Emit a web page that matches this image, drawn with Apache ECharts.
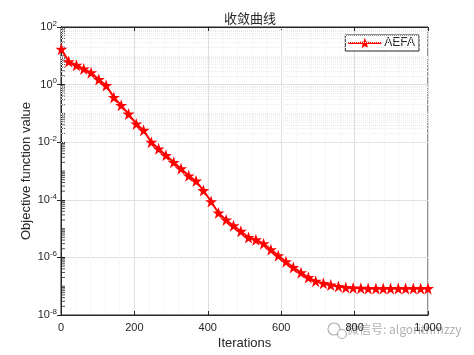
<!DOCTYPE html>
<html><head><meta charset="utf-8">
<script src="https://cdn.jsdelivr.net/npm/echarts@6/dist/echarts.min.js"></script>
<style>html,body{margin:0;padding:0;background:#fff}#c{width:474px;height:355px}</style>
</head><body><div id="c"></div>
<script>
const titleText = '收敛曲线';
const seriesName = 'AEFA';
const xLabel = 'Iterations';
const yLabel = 'Objective function value';
const xTicks = [0, 200, 400, 600, 800, 1000];
const yTickExps = [2, 0, -2, -4, -6, -8];
const iterations = [1, 21, 42, 62, 82, 103, 123, 144, 164, 184, 205, 225, 246, 266, 286, 307, 327, 348, 368, 388,
  409, 429, 450, 470, 490, 511, 531, 552, 572, 592, 613, 633, 654, 674, 694, 715, 735, 756, 776, 796,
  817, 837, 858, 878, 898, 919, 939, 960, 980, 1000];
const values = [17.0, 6.3, 4.7, 3.5, 2.6, 1.5, 0.93, 0.36, 0.19, 0.095,
  0.043, 0.026, 0.010, 5.9e-3, 3.5e-3, 2.0e-3, 1.2e-3, 6.8e-4, 4.5e-4, 2.1e-4,
  8.7e-5, 3.5e-5, 2.0e-5, 1.26e-5, 8.1e-6, 4.9e-6, 4.1e-6, 3.0e-6, 1.86e-6, 1.15e-6,
  7.1e-7, 4.5e-7, 2.95e-7, 2.0e-7, 1.5e-7, 1.26e-7, 1.1e-7, 9.8e-8, 9.0e-8, 8.7e-8,
  8.5e-8, 8.3e-8, 8.3e-8, 8.3e-8, 8.3e-8, 8.3e-8, 8.3e-8, 8.3e-8, 8.3e-8, 8.3e-8];

const star = 'path://M50,0 L61.8,35.1 L98.1,35.1 L68.7,56.8 L79.4,91.9 L50,70 L20.6,91.9 L31.3,56.8 L1.9,35.1 L38.2,35.1 Z';
const txt = '#262626';
const font = 'Liberation Sans, Arial, sans-serif';

// log minor grid lines (2..9 x 10^n and odd decades)
const minorY = [];
for (let n = -8; n < 2; n++) {
  for (let m = 2; m <= 9; m++) minorY.push({yAxis: m * Math.pow(10, n)});
  if (n % 2 !== 0) minorY.push({yAxis: Math.pow(10, n)});
}
const minorTickData = minorY.map(d => [0, d.yAxis]);

const data = iterations.map((x, i) => [x, values[i]]);
const chart = echarts.init(document.getElementById('c'));
const yAxisBase = {
  type: 'log', logBase: 10, min: 1e-8, max: 1e2, interval: 2,
  axisLine: {show: true, lineStyle: {color: txt, width: 1}},
  axisTick: {show: true, inside: true, length: 4, lineStyle: {color: txt}},
};
chart.setOption({
  animation: false,
  backgroundColor: '#fff',
  title: {text: titleText, left: 245, top: 7, textAlign: 'center',
    textStyle: {fontSize: 13, fontWeight: 'normal', color: txt, fontFamily: 'Noto Sans CJK SC'}},
  grid: {left: 61, right: 46, top: 27, bottom: 39, show: true, borderColor: txt, borderWidth: 1, backgroundColor: 'transparent'},
  legend: {
    data: [seriesName], right: 55, top: 35, orient: 'vertical',
    backgroundColor: '#fff', borderColor: txt, borderWidth: 1, borderRadius: 0,
    padding: [2, 4, 2, 2], itemWidth: 33, itemHeight: 14, itemGap: 0,
    textStyle: {fontSize: 12, color: txt, fontFamily: font, padding: [0, 0, 0, -2]}
  },
  xAxis: [{
    type: 'value', min: 0, max: 1000, interval: 200,
    name: xLabel, nameLocation: 'middle', nameGap: 22, nameMoveOverlap: false,
    nameTextStyle: {fontSize: 13, color: txt, fontFamily: font},
    axisLine: {show: true, lineStyle: {color: txt}},
    axisTick: {show: true, inside: true, length: 4, lineStyle: {color: txt}},
    axisLabel: {fontSize: 11, color: txt, fontFamily: font, margin: 7},
    splitLine: {show: true, lineStyle: {color: '#dfdfdf', width: 1}},
    minorTick: {show: false, splitNumber: 5},
    minorSplitLine: {show: true, lineStyle: {color: '#efefef', type: 'dotted', width: 1}}
  }, {
    type: 'value', min: 0, max: 1000, interval: 200, position: 'top',
    axisLine: {show: true, lineStyle: {color: txt}},
    axisTick: {show: true, inside: true, length: 4, lineStyle: {color: txt}},
    axisLabel: {show: false}, splitLine: {show: false}
  }],
  yAxis: [Object.assign({}, yAxisBase, {
    name: yLabel, nameLocation: 'middle', nameGap: 28, nameMoveOverlap: false,
    nameTextStyle: {fontSize: 13, color: txt, fontFamily: font},
    axisLabel: {
      margin: 4, color: txt, fontFamily: font, fontSize: 11,
      formatter: v => '10{s|' + Math.round(Math.log10(v)) + '}',
      rich: {s: {fontSize: 8, verticalAlign: 'top', padding: [0, 0, 7, 0], color: txt, fontFamily: font}}
    },
    splitLine: {show: true, lineStyle: {color: '#dfdfdf', width: 1}}
  }), Object.assign({}, yAxisBase, {
    position: 'right', axisLabel: {show: false}, splitLine: {show: false}
  })],
  series: [{
    type: 'line', name: '_grid', data: [], xAxisIndex: 0, yAxisIndex: 0, z: 0, silent: true,
    markLine: {silent: true, symbol: 'none', label: {show: false}, animation: false,
      lineStyle: {color: '#ebebeb', type: 'dotted', width: 1}, data: minorY}
  }, {
    type: 'scatter', name: '_ticks', data: minorTickData, xAxisIndex: 0, yAxisIndex: 0, z: 3, silent: true,
    symbol: 'rect', symbolSize: [4, 1], symbolOffset: [2, 0], itemStyle: {color: txt}
  }, {
    type: 'line', name: seriesName, data: data, xAxisIndex: 0, yAxisIndex: 0, z: 5,
    symbol: star, symbolSize: 12, showAllSymbol: true,
    lineStyle: {color: '#ff0000', width: 2}, itemStyle: {color: '#ff0000'}
  }],
  graphic: [{
    type: 'text', left: 347, top: 323,
    style: {text: '微信号: algorithmzzy', fontSize: 12, fill: 'rgba(150,150,150,0.75)', fontFamily: 'Noto Sans CJK SC'}
  }, {
    type: 'circle', shape: {cx: 334, cy: 329, r: 6}, style: {fill: 'none', stroke: 'rgba(150,150,150,0.75)', lineWidth: 1.2}
  }, {
    type: 'circle', shape: {cx: 342, cy: 334, r: 4.5}, style: {fill: '#fff', stroke: 'rgba(150,150,150,0.75)', lineWidth: 1.2}
  }]
});
</script></body></html>
